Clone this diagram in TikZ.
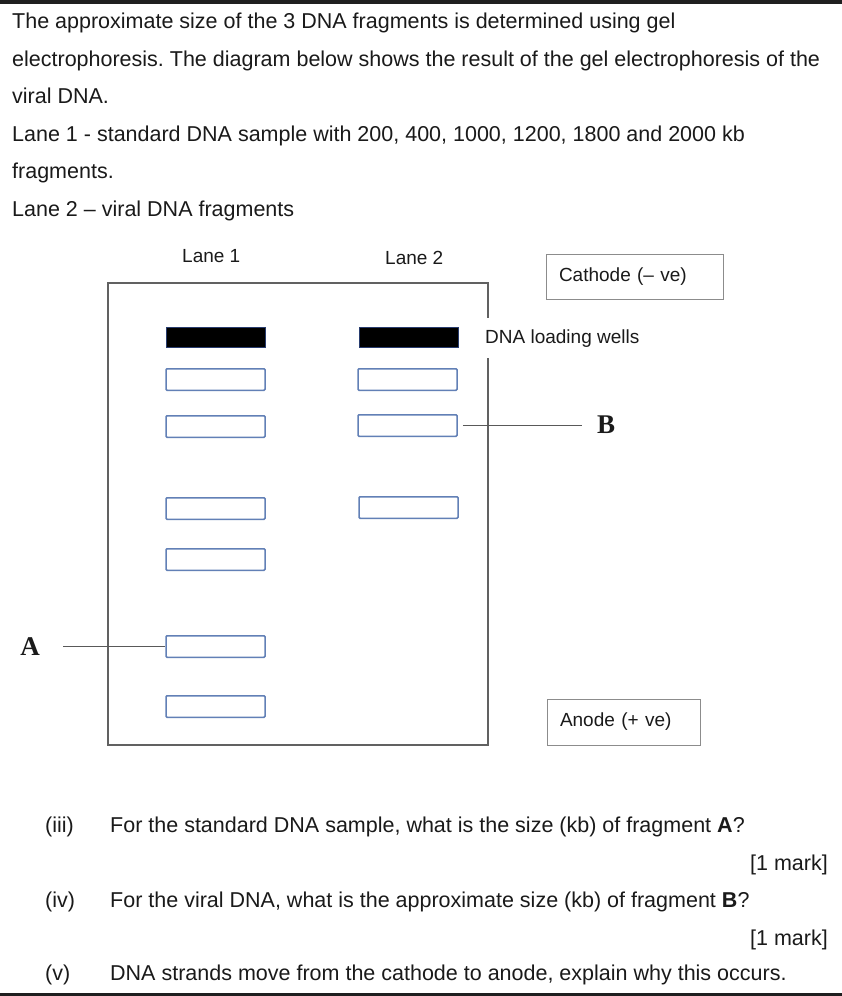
\documentclass[tikz,border=0pt]{standalone}
\usepackage{fontspec}
\setmainfont{Liberation Sans}
\newfontfamily\serifB{Liberation Serif}
\definecolor{bandblue}{RGB}{98,128,182}
\definecolor{wellblue}{RGB}{40,60,110}
\definecolor{inkc}{RGB}{26,26,26}
\frenchspacing
\begin{document}
\begin{tikzpicture}[x=1pt,y=-1pt,
 txt/.style={anchor=base west,inner sep=0pt,font=\fontsize{21.5}{26}\selectfont,text=inkc},
 lbl/.style={anchor=base west,inner sep=0pt,font=\fontsize{19}{23}\selectfont,text=inkc},
 band/.style={draw=bandblue,line width=1.5pt,fill=white,minimum width=99pt,minimum height=21.5pt,inner sep=0pt,rounded corners=1pt},
 well/.style={draw=wellblue,line width=1pt,fill=black,minimum width=99pt,minimum height=20pt,inner sep=0pt},
 ebox/.style={draw=black!45,line width=1pt,inner ysep=0pt,inner xsep=13pt,align=left,font=\fontsize{19}{23}\selectfont,text=inkc},
 gelbox/.style={draw=black!62,line width=2pt,inner sep=0pt},
 ptr/.style={draw=black!65,line width=1.8pt},
 letter/.style={font=\serifB\bfseries\fontsize{27}{30}\selectfont,inner sep=0pt,text=inkc}
]
% page
\fill[white] (0,0) rectangle (842,996);
\useasboundingbox (0,0) rectangle (842,996);
\fill[black!88] (0,0) rectangle (842,4);
\fill[black!88] (0,993) rectangle (842,996);

% intro text
\node[txt] (t1) at (12,28) {The approximate size of the 3 DNA fragments is determined using gel};
\node[txt] (t2) at (12,66) {electrophoresis. The diagram below shows the result of the gel electrophoresis of the};
\node[txt] (t3) at (12,103) {viral DNA.};
\node[txt] (t4) at (12,141) {Lane 1 - standard DNA sample with 200, 400, 1000, 1200, 1800 and 2000 kb};
\node[txt] (t5) at (12,178) {fragments.};
\node[txt] (t6) at (12,216) {Lane 2 – viral DNA fragments};

% gel
\node[gelbox,minimum width=380pt,minimum height=462pt] (gel) at (298,514) {};
\node[lbl,fill=white,inner xsep=3pt,inner ysep=11.5pt] (wells) at (482,343) {DNA loading wells};
\node[lbl] (lane1) at (182,262) {Lane 1};
\node[lbl] (lane2) at (385,264) {Lane 2};

\node[ebox,text width=151pt,minimum height=45pt] (cathode) at (634.5,276.5) {Cathode (– ve)};
\node[ebox,text width=127pt,minimum height=46pt] (anode) at (623.5,722) {Anode (+ ve)};

% wells
\node[well] (w1) at (215.5,337.5) {};
\node[well] (w2) at (408.5,337.5) {};

% lane 1 bands
\node[band] (a1) at (215.5,379.5) {};
\node[band] (a2) at (215.5,426.5) {};
\node[band] (a3) at (215.5,508.5) {};
\node[band] (a4) at (215.5,559.5) {};
\node[band] (a5) at (215.5,646.5) {};
\node[band] (a6) at (215.5,706.5) {};
% lane 2 bands
\node[band] (c1) at (407.5,379.5) {};
\node[band] (c2) at (407.5,425.5) {};
\node[band] (c3) at (408.5,507.5) {};

% pointers
\node[letter] (A) at (30,647) {A};
\node[letter] (B) at (606,425) {B};
\coordinate (Astart) at (63,646.5);
\coordinate (Bend) at (582,425.5);
\draw[ptr] (Astart) -- (a5.west);
\draw[ptr] ([xshift=5pt]c2.east) -- (Bend);

% questions
\node[txt] (q3n) at (45,832) {(iii)};
\node[txt] (q3) at (110,832) {For the standard DNA sample, what is the size (kb) of fragment \textbf{A}?};
\node[txt,anchor=base east] (m3) at (828,870) {[1 mark]};
\node[txt] (q4n) at (45,907) {(iv)};
\node[txt] (q4) at (110,907) {For the viral DNA, what is the approximate size (kb) of fragment \textbf{B}?};
\node[txt,anchor=base east] (m4) at (828,945) {[1 mark]};
\node[txt] (q5n) at (45,980) {(v)};
\node[txt] (q5) at (110,980) {DNA strands move from the cathode to anode, explain why this occurs.};
\end{tikzpicture}
\end{document}
